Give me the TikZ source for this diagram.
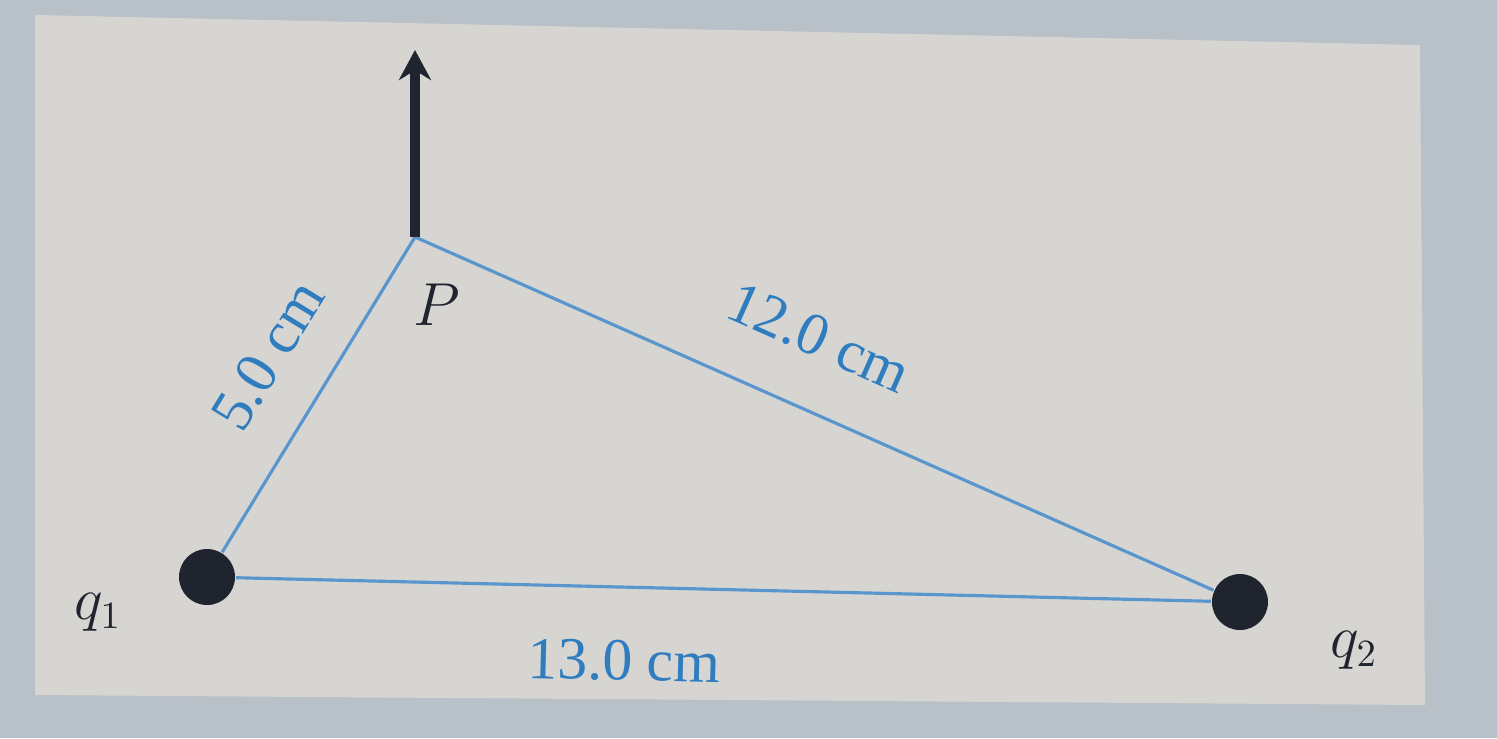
\documentclass[tikz,border=0pt]{standalone}
\usepackage{fontspec}
\setmainfont{Liberation Serif}
\usetikzlibrary{arrows.meta}
\usetikzlibrary{positioning}
\definecolor{screen}{HTML}{B8C0C8}
\definecolor{paper}{HTML}{D6D5D2}
\definecolor{linkblue}{HTML}{5A96CE}
\definecolor{labelblue}{HTML}{2F7DBF}
\definecolor{ink}{HTML}{20242E}

\begin{document}
\begin{tikzpicture}[semithick,
			charge/.style={circle,fill=ink,minimum size=0.56cm,inner sep=0pt},
			side/.style={draw=linkblue,line width=0.9pt},
			dist/.style={text=labelblue,font=\fontsize{17}{20}\selectfont,inner sep=0pt,sloped},
			symb/.style={text=ink,font=\fontsize{16}{19}\selectfont},
			field/.style={draw=ink,line width=2.6pt,-{Stealth[length=0.3cm,width=0.32cm]}}]
			\useasboundingbox (0,0) rectangle (14.97,-7.38);
			\fill[screen] (0,0) rectangle (14.97,-7.38);
			\fill[paper] (0.35,-0.15) -- (14.2,-0.45) -- (14.25,-7.05) -- (0.35,-6.95) -- cycle;

			\coordinate (P) at (4.15,-2.37);
			\coordinate (tip) at (4.15,-0.5);
			\node[charge] (q1) at (2.07,-5.77) {};
			\node[charge] (q2) at (12.40,-6.02) {};

			\path[side]
			(q1) edge node[dist,above=0.42cm,pos=0.52] {5.0 cm} (P)
			(P) edge node[dist,above=0.5cm,pos=0.47] {12.0 cm} (q2)
			(q1) edge node[dist,below=0.52cm,pos=0.4] {13.0 cm} (q2)
			;
			\draw[field] (P) -- (tip);

			\node[symb] (Plab) at ([xshift=0.22cm,yshift=-0.68cm]P) {$P$};
			\node[symb] (q1lab) at ([xshift=-1.09cm,yshift=-0.35cm]q1.center) {$q_1$};
			\node[symb] (q2lab) at ([xshift=1.14cm,yshift=-0.48cm]q2.center) {$q_2$};
			\end{tikzpicture}
\end{document}
